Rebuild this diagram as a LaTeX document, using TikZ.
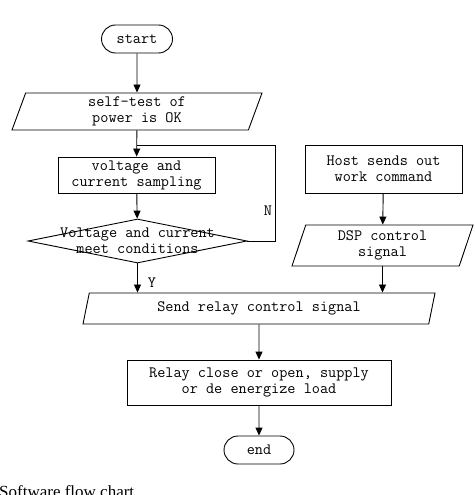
\documentclass[tikz,border=0pt]{standalone}
\usepackage{fontspec}
\setmainfont{Liberation Serif}
\usetikzlibrary{shapes,arrows,positioning,calc,arrows.meta}

\tikzset{
    base/.style={draw, line width=0.9pt, font=\ttfamily\fontsize{15.8}{16}\selectfont, align=center, inner sep=0pt},
    terminal/.style={base, rounded rectangle, minimum width=71pt, minimum height=28pt},
    process/.style={base, rectangle},
    io/.style={base, trapezium, trapezium left angle=65, trapezium right angle=115, trapezium stretches body},
    decision/.style={draw, line width=0.9pt, diamond, inner sep=0pt, minimum width=219pt, minimum height=44pt},
    arrow/.style={line width=0.9pt, -{Triangle[length=8pt,width=7pt]}},
    line/.style={line width=0.9pt},
    tag/.style={font=\ttfamily\fontsize{15.8}{16}\selectfont}
}

\begin{document}
\begin{tikzpicture}[x=1pt,y=-1pt]
    \useasboundingbox (0,0) rectangle (474,495);
    % left column
    \node[terminal] (start) at (137,39) {start};
    \node[io, minimum width=250pt, minimum height=37pt] (selftest) at (137,111.5) {self-test of\\power is OK};
    \node[process, minimum width=157pt, minimum height=36pt] (sample) at (136.5,175) {voltage and\\current sampling};
    \node[decision] (cond) at (137.5,241) {};
    \node[tag, align=center] (condtext) at (cond) {Voltage and current\\meet conditions};
    % right column
    \node[process, minimum width=157pt, minimum height=48pt] (host) at (383.5,169) {Host sends out\\work command};
    \node[io, minimum width=181pt, minimum height=41pt] (dsp) at (382.5,245.5) {DSP control\\signal};
    % bottom
    \node[io, minimum width=352pt, minimum height=31pt] (send) at (259,308.5) {Send relay control signal};
    \node[process, minimum width=264pt, minimum height=45pt] (relay) at (259,382.5) {Relay close or open, supply\\or de energize load};
    \node[terminal, minimum width=70pt] (end) at (259,450) {end};

    \coordinate (loopjoin) at (137,145);
    \coordinate (loopright) at (275,145);

    \draw[arrow] (start) -- (selftest);
    \draw[arrow] (selftest) -- (sample);
    \draw[arrow] (sample) -- (cond);
    \draw[line] (cond.east) -| (loopright) -- (loopjoin);
    \node[tag] (no) at (268,211) {N};
    \draw[arrow] (cond.south) -- (cond.south |- send.north);
    \node[tag] (yes) at (152,283) {Y};
    \draw[arrow] (host) -- (dsp);
    \draw[arrow] (dsp.south) -- (dsp.south |- send.north);
    \draw[arrow] (send) -- (relay);
    \draw[arrow] (relay) -- (end);

    % caption, cut by the page edge
    \node[anchor=base west, inner sep=0pt, font=\fontsize{17}{20}\selectfont] (caption) at (-1,497) {Software flow chart};
\end{tikzpicture}
\end{document}
